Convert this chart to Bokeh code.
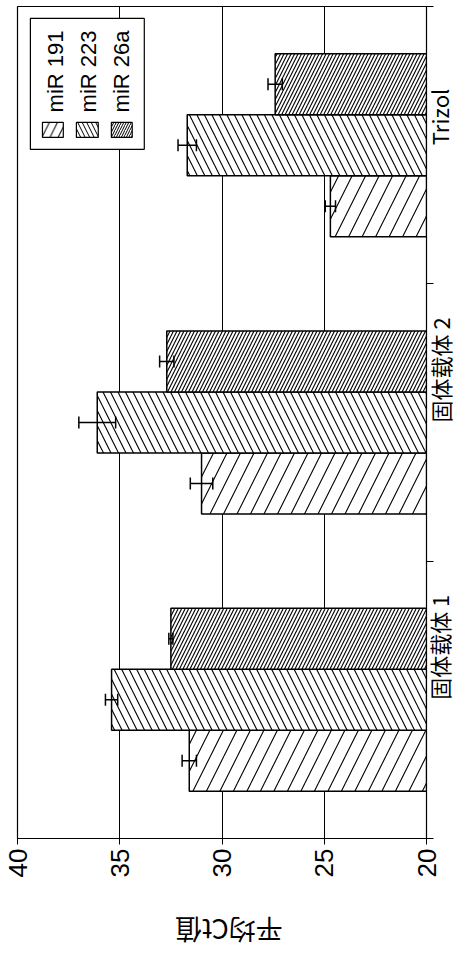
import math
from bokeh.plotting import figure
from bokeh.layouts import column
from bokeh.models import (Range1d, FixedTicker, ColumnDataSource, Whisker, TeeHead,
                          BoxAnnotation, Label)
from bokeh.core.properties import value
from bokeh.embed import file_html
from bokeh.resources import INLINE

# ---- data ----
categories = ["固体载体 1", "固体载体 2", "Trizol"]
series = ["miR 191", "miR 223", "miR 26a"]
mir191 = [31.6, 31.0, 24.7]
mir191_err = [0.35, 0.55, 0.25]
mir223 = [35.4, 36.1, 31.7]
mir223_err = [0.3, 0.9, 0.45]
mir26a = [32.5, 32.7, 27.4]
mir26a_err = [0.1, 0.35, 0.35]
value_ticks = [20, 25, 30, 35, 40]
axis_title = "平均Ct值"

values = [mir191, mir223, mir26a]
errors = [mir191_err, mir223_err, mir26a_err]
hatches = [("/", 27), ("\\", 15), ("/", 7)]
offsets = [-0.22, 0.0, 0.22]
bar_h = 0.22

W = 474
p = figure(width=W, height=882, output_backend="svg", toolbar_location=None,
           x_range=Range1d(40, 20), y_range=Range1d(-0.5, 2.5),
           y_axis_location="right", min_border_left=17, min_border_right=46,
           min_border_top=6, min_border_bottom=44)
p.background_fill_color = "white"
p.border_fill_color = "white"
p.outline_line_color = "black"
p.outline_line_width = 1.2

# grid
p.ygrid.grid_line_color = None
p.xgrid.ticker = FixedTicker(ticks=value_ticks)
p.xgrid.grid_line_color = "black"
p.xgrid.grid_line_width = 1

# bottom axis
xa = p.xaxis[0]
xa.ticker = FixedTicker(ticks=value_ticks)
xa.major_label_orientation = math.pi / 2
xa.major_label_text_font = "Liberation Sans"
xa.major_label_text_font_size = "26px"
xa.major_label_text_color = "black"
xa.major_tick_out = 6
xa.major_tick_in = 0
xa.major_tick_line_color = "black"
xa.minor_tick_line_color = None
xa.axis_line_color = "black"
xa.major_label_standoff = 4

# right category axis
ya = p.yaxis[0]
ya.ticker = FixedTicker(ticks=[0, 1, 2], minor_ticks=[-0.5, 0.5, 1.5, 2.5])
ya.major_label_overrides = {i: c for i, c in enumerate(categories)}
ya.major_label_orientation = math.pi / 2
ya.major_label_text_font = "Noto Sans CJK SC"
ya.major_label_text_font_size = "22px"
ya.major_label_text_color = "black"
ya.major_tick_line_color = None
ya.major_tick_out = 0
ya.major_tick_in = 0
ya.minor_tick_out = 7
ya.minor_tick_in = 0
ya.minor_tick_line_color = "black"
ya.axis_line_color = "black"
ya.major_label_standoff = 6

# bars + error bars
for vals, errs, (hp, hs), off in zip(values, errors, hatches, offsets):
    ys = [i + off for i in range(len(categories))]
    src = ColumnDataSource(dict(y=ys, v=vals,
                                lo=[v - e for v, e in zip(vals, errs)],
                                hi=[v + e for v, e in zip(vals, errs)]))
    p.hbar(y="y", left=20, right="v", height=bar_h, source=src,
           fill_color="white", line_color="black", line_width=1.5,
           hatch_pattern=hp, hatch_scale=hs, hatch_color="black",
           hatch_weight=1.1)
    w = Whisker(base="y", lower="lo", upper="hi", dimension="width", source=src,
                level="overlay", line_color="black", line_width=1.5,
                lower_head=TeeHead(size=12, line_color="black", line_width=1.5),
                upper_head=TeeHead(size=12, line_color="black", line_width=1.5))
    p.add_layout(w)

# legend (drawn manually, rotated like the chart)
p.add_layout(BoxAnnotation(left=39.37, right=33.8, bottom=1.985, top=2.457,
                           fill_color="white", fill_alpha=1.0,
                           line_color="black", line_width=1.2, line_alpha=1.0))
sw_x = [(38.78, 37.76), (37.12, 36.05), (35.41, 34.39)]
txt_x = [38.15, 36.54, 34.93]
for name, (hp, hs), (l, r), tx in zip(series, hatches, sw_x, txt_x):
    p.add_layout(BoxAnnotation(left=l, right=r, bottom=2.028, top=2.082,
                               fill_color="white", fill_alpha=1.0,
                               line_color="black", line_width=1.2, line_alpha=1.0,
                               hatch_pattern=hp, hatch_scale=max(hs * 0.6, 5),
                               hatch_color="black", hatch_weight=1))
    p.add_layout(Label(x=tx, y=2.118, text=name, angle=math.pi / 2,
                       text_align="left", text_baseline="middle",
                       text_font="Liberation Sans", text_font_size="22px",
                       text_color="black"))

# value-axis title, upside down as in the reference (own small panel)
TH = 70
t = figure(width=W, height=TH, output_backend="svg", toolbar_location=None,
           x_range=Range1d(0, W), y_range=Range1d(0, TH),
           x_axis_type=None, y_axis_type=None, min_border=0)
t.outline_line_color = None
t.grid.visible = False
t.text(x=[245], y=[22], text=[axis_title], angle=math.pi,
       text_align="center", text_baseline="middle",
       text_font=value("Noto Sans CJK SC"), text_font_size="27px",
       text_color="black")

layout = column(p, t, spacing=0)
open("out.html", "w").write(file_html(layout, INLINE))
